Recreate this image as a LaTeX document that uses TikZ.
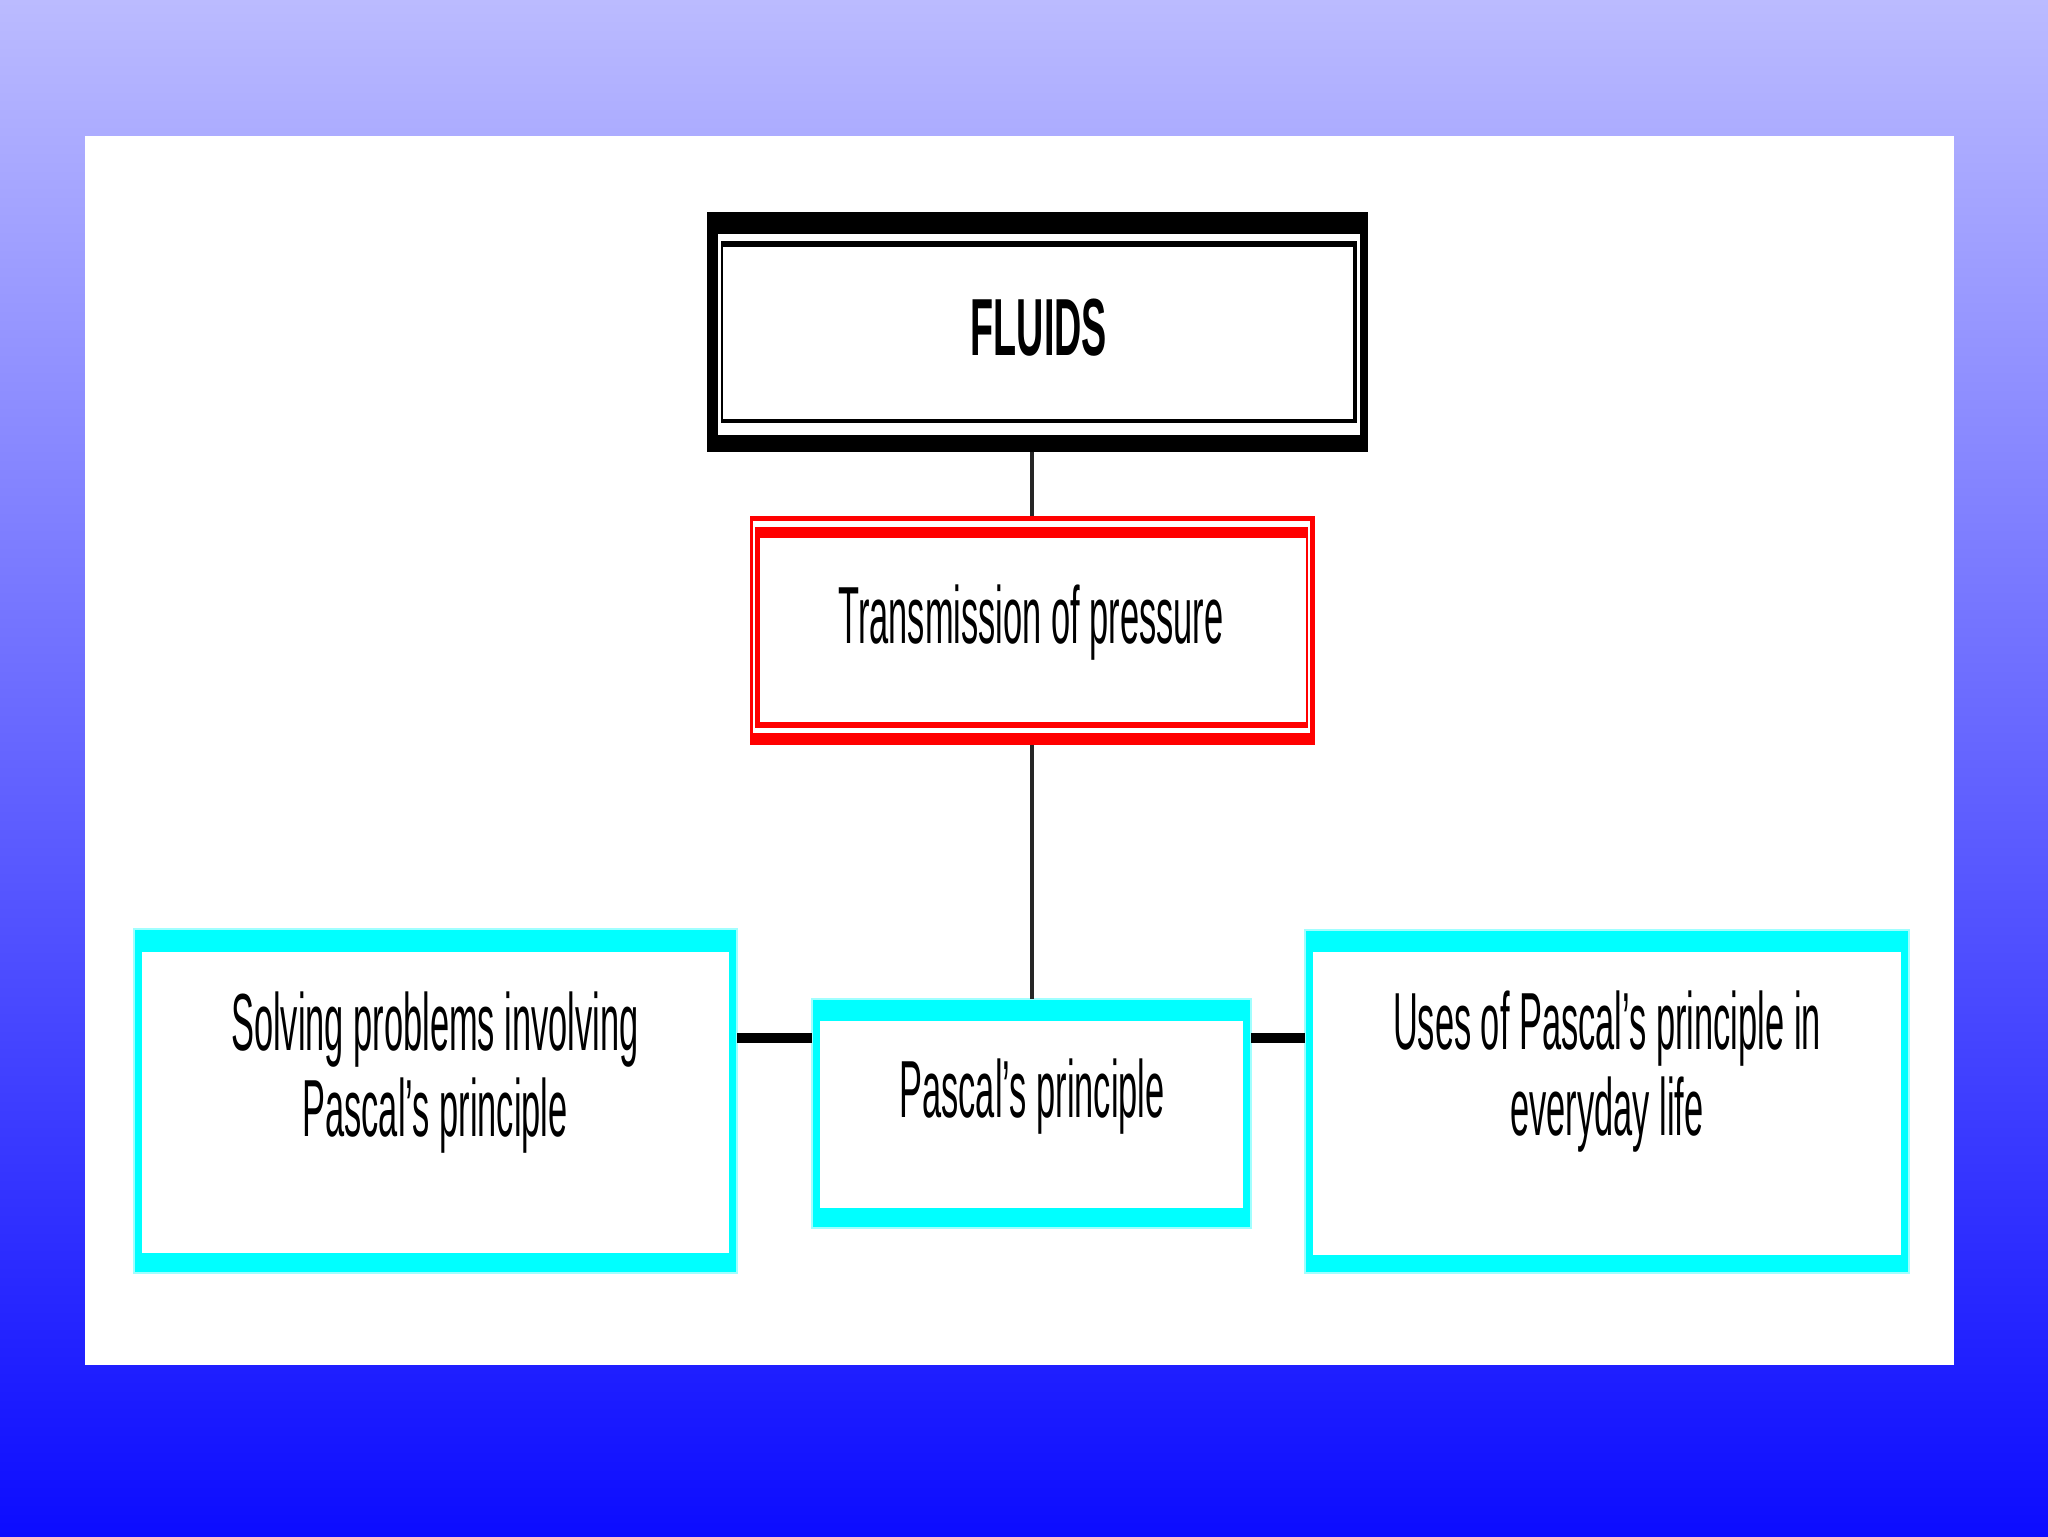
\documentclass[tikz,border=0pt]{standalone}
\usepackage{fontspec}
\setmainfont{Liberation Sans}
\usetikzlibrary{calc}
\newcommand\sqz[2][0.425]{\scalebox{#1}[1]{#2}}
\definecolor{bgtop}{RGB}{187,187,255}
\definecolor{bgbot}{RGB}{12,12,255}
\definecolor{aqua}{RGB}{0,255,255}
\definecolor{cyanedge}{RGB}{160,255,255}
\definecolor{pured}{RGB}{255,0,0}
\begin{document}
\begin{tikzpicture}[x=0.5pt,y=-0.5pt,
  box/.style={rectangle, inner sep=0pt, outer sep=0pt},
  cybox/.style={box, fill=aqua, draw=cyanedge, line width=1pt},
  txt/.style={inner sep=0pt, anchor=base, font=\fontsize{40.5pt}{41pt}\selectfont},
  conn/.style={draw=black!85, line width=2pt},
  hconn/.style={draw=black, line width=5pt}]
\useasboundingbox (0,0) rectangle (2048,1536);
% background
\shade[top color=bgtop, bottom color=bgbot] (0,0) rectangle (2048,1536);
\fill[white] (85,136) rectangle (1954,1365);

% boxes (as nodes)
\node[box, fill=black, minimum width=330.5pt, minimum height=120pt] (fluids) at (1037.5,332) {};
\node[box, fill=pured, minimum width=282.5pt, minimum height=114.5pt] (trans) at (1032.5,630.5) {};
\node[cybox, minimum width=219.5pt, minimum height=114.5pt] (pascal) at (1031.5,1113.5) {};
\node[cybox, minimum width=301.5pt, minimum height=172pt] (left) at (435.5,1101) {};
\node[cybox, minimum width=302pt, minimum height=171.5pt] (right) at (1607,1101.5) {};

% connectors
\coordinate (hl) at (0,1038);
\draw[conn] (pascal.north |- fluids.south) -- (pascal.north |- trans.north);
\draw[conn] (pascal.north |- trans.south) -- (pascal.north);
\draw[hconn] (left.east |- hl) -- (pascal.west |- hl);
\draw[hconn] (pascal.east |- hl) -- (right.west |- hl);

% FLUIDS inner structure
\fill[white] ($(fluids.north west)+(11,22)$) rectangle ($(fluids.south east)+(-8,-17)$);
\fill[black] ($(fluids.north west)+(14,29)$) rectangle ($(fluids.south east)+(-11,-29)$);
\fill[white] ($(fluids.north west)+(16,35)$) rectangle ($(fluids.south east)+(-15,-33)$);

% Transmission inner structure
\fill[white] ($(trans.north west)+(3,5)$) rectangle ($(trans.south east)+(-5,-12)$);
\fill[pured] ($(trans.north west)+(5,11)$) rectangle ($(trans.south east)+(-7,-17)$);
\fill[white] ($(trans.north west)+(10,22)$) rectangle ($(trans.south east)+(-9,-23)$);

% cyan inner whites
\fill[white] ($(pascal.north west)+(8,22)$) rectangle ($(pascal.south east)+(-8,-20)$);
\fill[white] ($(left.north west)+(8,23)$) rectangle ($(left.south east)+(-8,-20)$);
\fill[white] ($(right.north west)+(8,22)$) rectangle ($(right.south east)+(-8,-18)$);

% texts
\node[txt] (fluidsT) at (1039,355) {\sqz[0.466]{\bfseries FLUIDS}};
\node[txt] (transT) at (1031,643) {\sqz{Transmission of pressure}};
\node[txt] (pascalT) at (1032,1117) {\sqz{Pascal's principle}};
\node[txt] (leftT1) at (435,1050) {\sqz{Solving problems involving}};
\node[txt] (leftT2) at (435,1136) {\sqz{Pascal's principle}};
\node[txt] (rightT1) at (1607,1049) {\sqz{Uses of Pascal's principle in}};
\node[txt] (rightT2) at (1607,1135) {\sqz{everyday life}};
\end{tikzpicture}
\end{document}
